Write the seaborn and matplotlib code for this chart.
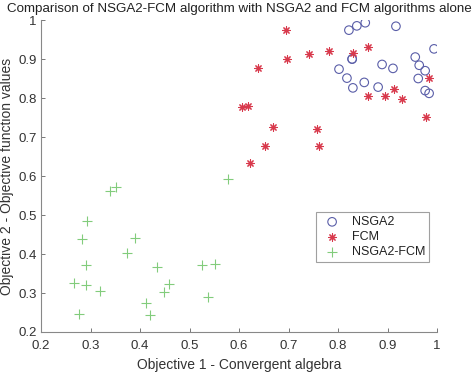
import matplotlib
matplotlib.use("Agg")
import matplotlib.pyplot as plt
import seaborn as sns
import pandas as pd

nsga2_x = [0.822, 0.838, 0.855, 0.917, 0.8285, 0.8285, 0.802, 0.889, 0.911, 0.818,
           0.853, 0.830, 0.881, 0.956, 0.964, 0.976, 0.962, 0.994, 0.976, 0.984]
nsga2_y = [0.974, 0.985, 0.993, 0.984, 0.900, 0.900, 0.874, 0.886, 0.876, 0.851,
           0.840, 0.826, 0.828, 0.905, 0.884, 0.870, 0.850, 0.926, 0.819, 0.812]

fcm_x = [0.694, 0.638, 0.697, 0.742, 0.781, 0.606, 0.618, 0.668, 0.757, 0.653,
         0.762, 0.623, 0.830, 0.861, 0.914, 0.860, 0.894, 0.930, 0.984, 0.978]
fcm_y = [0.974, 0.877, 0.900, 0.914, 0.921, 0.777, 0.780, 0.725, 0.721, 0.676,
         0.677, 0.633, 0.916, 0.931, 0.823, 0.805, 0.806, 0.798, 0.852, 0.751]

hyb_x = [0.577, 0.339, 0.352, 0.293, 0.282, 0.389, 0.373, 0.291, 0.435, 0.526,
         0.551, 0.267, 0.290, 0.320, 0.458, 0.448, 0.413, 0.538, 0.277, 0.420]
hyb_y = [0.592, 0.562, 0.571, 0.485, 0.438, 0.441, 0.403, 0.371, 0.366, 0.373,
         0.375, 0.326, 0.320, 0.305, 0.323, 0.303, 0.274, 0.289, 0.247, 0.244]

series_names = ["NSGA2", "FCM", "NSGA2-FCM"]
x_ticks = [0.2, 0.3, 0.4, 0.5, 0.6, 0.7, 0.8, 0.9, 1.0]
y_ticks = [0.2, 0.3, 0.4, 0.5, 0.6, 0.7, 0.8, 0.9, 1.0]
tick_labels = ["0.2", "0.3", "0.4", "0.5", "0.6", "0.7", "0.8", "0.9", "1"]

sns.set_style("white")
plt.rcParams["font.family"] = ["Liberation Sans", "DejaVu Sans"]

fig = plt.figure(figsize=(4.74, 3.74), dpi=100)
ax = fig.add_axes([0.0865, 0.1123, 0.8355, 0.8342])

df1 = pd.DataFrame({"x": nsga2_x, "y": nsga2_y})
df2 = pd.DataFrame({"x": fcm_x, "y": fcm_y})
df3 = pd.DataFrame({"x": hyb_x, "y": hyb_y})

sns.scatterplot(data=df1, x="x", y="y", ax=ax, marker="o", s=38,
                facecolor="none", edgecolor="#5a5ea8", linewidth=0.8, label=series_names[0])
sns.scatterplot(data=df2, x="x", y="y", ax=ax, marker=(8, 2, 0), s=28,
                color="#d8394c", linewidth=0.8, label=series_names[1])
sns.scatterplot(data=df3, x="x", y="y", ax=ax, marker="+", s=50,
                color="#82cc7c", linewidth=0.8, label=series_names[2])

ax.set_xlim(0.2, 1.0)
ax.set_ylim(0.2, 1.0)
ax.set_xticks(x_ticks)
ax.set_yticks(y_ticks)
ax.set_xticklabels(tick_labels)
ax.set_yticklabels(tick_labels)
ax.tick_params(axis="x", pad=6)
ax.tick_params(axis="y", pad=3)
ax.tick_params(direction="in", length=3, width=0.7, color="#777777",
               labelsize=9.5, labelcolor="#333333", bottom=True, left=True)
for side in ["top", "right"]:
    ax.spines[side].set_visible(False)
for side in ["left", "bottom"]:
    ax.spines[side].set_color("#888888")
    ax.spines[side].set_linewidth(0.8)

ax.set_xlabel("Objective 1 - Convergent algebra", fontsize=10, color="#333333", labelpad=4)
ax.set_ylabel("Objective 2 - Objective function values", fontsize=10, color="#333333", labelpad=3)
fig.text(0.505, 0.975, "Comparison of NSGA2-FCM algorithm with NSGA2 and FCM algorithms alone",
         fontsize=9.6, color="#222222", ha="center", va="center")

leg = ax.legend(loc="lower left", bbox_to_anchor=(0.694, 0.224), borderaxespad=0,
                frameon=True, fancybox=False, edgecolor="#888888", fontsize=9,
                handletextpad=0.6, borderpad=0.3, labelspacing=0.25, handlelength=2.0)
leg.get_frame().set_linewidth(0.8)
for t in leg.get_texts():
    t.set_color("#222222")

fig.savefig("out.png", dpi=100)
